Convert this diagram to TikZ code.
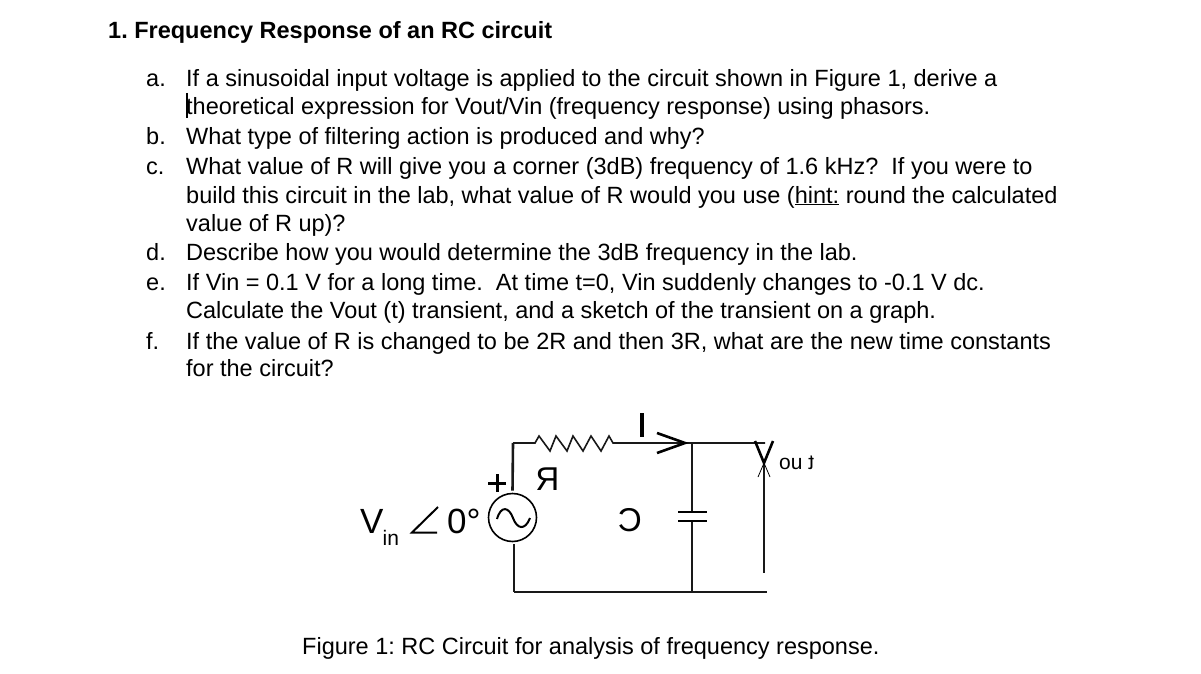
\documentclass[tikz,border=0pt]{standalone}
\usepackage{graphicx}
\usepackage{fontspec}
\setmainfont{Liberation Sans}
\begin{document}
\frenchspacing
\begin{tikzpicture}[x=1pt, y=-1pt,
    line/.style={anchor=base west, inner sep=0pt, font=\fontsize{23.5}{24}\selectfont},
    mirror/.style={xscale=-1, transform shape, anchor=base, inner sep=0pt, font=\fontsize{33}{33}\selectfont},
    wire/.style={line width=1.6pt, black!90},
    thick wire/.style={line width=2.6pt, black!90}]
    \useasboundingbox (0,0) rectangle (1201,674);
    % Define the text
    \node[line, font=\fontsize{23.5}{24}\selectfont\bfseries] (title) at (108,39) {1. Frequency Response of an RC circuit};
    \node[line] (la) at (146,87) {a.};
    \node[line] (a1) at (186,87) {If a sinusoidal input voltage is applied to the circuit shown in Figure 1, derive a};
    \node[line] (a2) at (186,115) {theoretical expression for Vout/Vin (frequency response) using phasors.};
    \node[line] (lb) at (146,144) {b.};
    \node[line] (b1) at (186,144) {What type of filtering action is produced and why?};
    \node[line] (lc) at (146,174) {c.};
    \node[line] (c1) at (186,174) {What value of R will give you a corner (3dB) frequency of 1.6 kHz?\ \ If you were to};
    \node[line] (c2) at (186,203) {build this circuit in the lab, what value of R would you use (\underline{hint:} round the calculated};
    \node[line] (c3) at (186,231) {value of R up)?};
    \node[line] (ld) at (146,260) {d.};
    \node[line] (d1) at (186,260) {Describe how you would determine the 3dB frequency in the lab.};
    \node[line] (le) at (146,290) {e.};
    \node[line] (e1) at (186,290) {If Vin = 0.1 V for a long time.\ \ At time t=0, Vin suddenly changes to -0.1 V dc.};
    \node[line] (e2) at (186,318) {Calculate the Vout (t) transient, and a sketch of the transient on a graph.};
    \node[line] (lf) at (146,349) {f.};
    \node[line] (f1) at (186,349) {If the value of R is changed to be 2R and then 3R, what are the new time constants};
    \node[line] (f2) at (186,376) {for the circuit?};
    \node[line] (caption) at (302,654) {Figure 1: RC Circuit for analysis of frequency response.};
    % Define the circuit
    \node[draw, circle, line width=1.6pt, minimum size=48pt, inner sep=0pt] (vs) at (512.5,517.5) {};
    \coordinate (tl) at (513,443);
    \coordinate (rs) at (535,443);
    \coordinate (re) at (613,443);
    \coordinate (tn) at (692,443);
    \coordinate (tr) at (765,443);
    \coordinate (bl) at (514,592);
    \coordinate (bn) at (692,592);
    \coordinate (br) at (767,592);
    \coordinate (p1) at (692,512);
    \coordinate (p2) at (692,521);
    \coordinate (vo) at (764,463);
    \coordinate (vb) at (764,573);
    \draw[thick wire] (vs.north) ++(0,-2) -- (tl);
    \draw[wire] (tl) -- (rs) -- (539,436) -- (550,451) -- (556,436) -- (567,451) -- (573,436) -- (583,451) -- (591,436) -- (601,451) -- (609,436) -- (re) -- (tn) -- (tr);
    \draw[thick wire] (bl |- vs.south) ++(0,2) -- (bl);
    \draw[wire] (bl) -- (bn) -- (br);
    \draw[wire] (tn) -- (p1) (p2) -- (bn);
    \draw[line width=2.2pt] (678,512) -- (707,512) (678,521) -- (707,521);
    \draw[wire] (vo) -- (vb);
    \draw[line width=2.6pt] (755,441) -- (vo) -- (773,441);
    \draw[line width=.8pt] (758,477) -- (vo) (770,477) -- (vo);
    \draw[line width=2.6pt] (657,433) -- (685,443) -- (657,453);
    \draw[line width=3.4pt] (642,413) -- (642,437);
    \draw[line width=3pt] (497,474) -- (497,492) (488,483) -- (506,483);
    \draw[line width=2pt] (438,507) -- (412,532.5) -- (437,532.5);
    \draw[line width=2pt] (497,519) .. controls (501,505) and (509,507) .. (513,518) .. controls (517,529) and (525,531) .. (530,518);
    % Define the labels
    \node[mirror] (rlab) at (547.5,490) {R};
    \node[mirror] (clab) at (630,531) {C};
    \node[line, font=\fontsize{35}{35}\selectfont] (vlab) at (360,533) {V};
    \node[line, font=\fontsize{21}{21}\selectfont] (inlab) at (382.5,545) {in};
    \node[line, font=\fontsize{35}{35}\selectfont] (deg) at (447,533) {0°};
    \node[line, font=\fontsize{21}{21}\selectfont] (outlab) at (779,469) {ou \reflectbox{t}};
    % Mark the stray cursor
    \draw[line width=1.5pt] (187,93) -- (187,118);
\end{tikzpicture}
\end{document}
